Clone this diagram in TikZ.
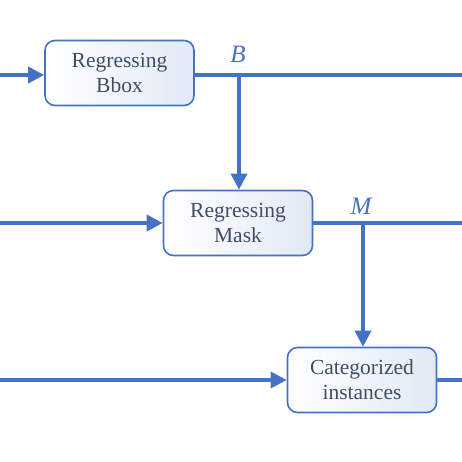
\documentclass[tikz,border=0pt]{standalone}
\usepackage{fontspec}
\setmainfont{Liberation Serif}
\usepackage{tikz}
\usetikzlibrary{calc,arrows.meta}

\definecolor{flowblue}{RGB}{68,114,196}
\definecolor{boxtext}{RGB}{62,78,102}
\definecolor{boxshade}{RGB}{226,233,245}

\begin{document}
\begin{tikzpicture}[x=1pt,y=1pt,
  stagebox/.style={draw=flowblue,line width=1.6pt,rounded corners=10pt,
    left color=white,right color=boxshade,
    minimum width=149pt,minimum height=65pt,align=center,text=boxtext,
    font=\rmfamily\fontsize{21.5}{25}\selectfont},
  flow/.style={draw=flowblue,line width=3.6pt},
  flowarr/.style={flow,-{Triangle[length=16pt,width=16pt]}},
  sym/.style={text=flowblue,font=\rmfamily\fontsize{25}{25}\selectfont\itshape}]
  \def\W{462}  % width
  \def\H{462}  % height
  \useasboundingbox (0,0) rectangle (\W,\H);

  % Stages
  \node[stagebox] (bbox) at (119.5,389) {Regressing\\Bbox};
  \node[stagebox] (mask) at (238,239) {Regressing\\Mask};
  \node[stagebox] (inst) at (362,82) {Categorized\\instances};

  % Free ends
  \coordinate (bboxin)  at (0,387);
  \coordinate (maskin)  at (0,239);
  \coordinate (instin)  at (0,82);
  \coordinate (bboxout) at (\W,387);
  \coordinate (maskout) at (\W,239);
  \coordinate (instout) at (\W,82);
  \coordinate (bsplit)  at (239,387);
  \coordinate (msplit)  at (363,239);

  % Inputs
  \draw[flowarr] (bboxin) -- (bboxin-|bbox.west);
  \draw[flowarr] (maskin) -- (mask.west);
  \draw[flowarr] (instin) -- (inst.west);

  % Outputs and branches
  \draw[flow] (bboxin-|bbox.east) -- (bboxout);
  \draw[flow] (mask.east) -- (maskout);
  \draw[flow] (inst.east) -- (instout);
  \draw[flowarr] (bsplit) -- (bsplit|-mask.north);
  \draw[flowarr] (msplit) -- (msplit|-inst.north);

  % Symbols
  \node[sym] (blabel) at (238,408) {B};
  \node[sym] (mlabel) at (361,256) {M};
\end{tikzpicture}
\end{document}
